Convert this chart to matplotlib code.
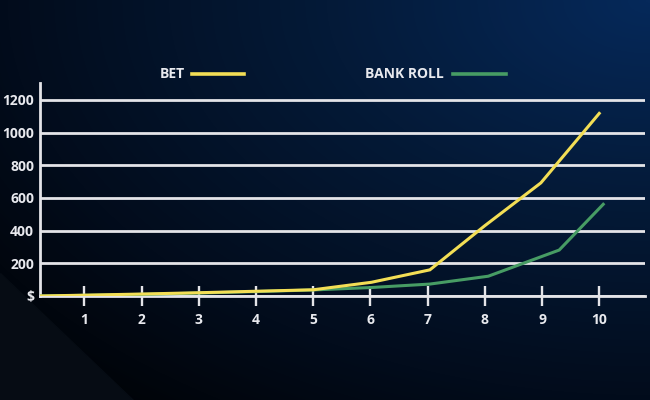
import matplotlib
matplotlib.use("Agg")
import matplotlib.pyplot as plt
from matplotlib.colors import LinearSegmentedColormap
from matplotlib.lines import Line2D
import numpy as np

plt.rcParams['font.family'] = ['Open Sans', 'DejaVu Sans']
plt.rcParams['font.weight'] = 'bold'

# data
bet_x = [0.22, 1, 2, 3, 4, 5, 6.02, 7.04, 8, 8.98, 10.0]
bet_y = [0, 5, 12, 20, 29, 38, 84, 160, 430, 692, 1117]
bank_x = [0.22, 1, 2, 3, 4, 5, 6.02, 7.04, 8.06, 9.3, 10.07]
bank_y = [0, 4, 10, 18, 27, 37, 52, 73, 121, 281, 561]
x_ticks = [1, 2, 3, 4, 5, 6, 7, 8, 9, 10]
y_ticks = [0, 200, 400, 600, 800, 1000, 1200]
y_labels = ['$', '200', '400', '600', '800', '1000', '1200']

text_col = '#e8e9ee'
grid_col = '#e4e4e8'
yellow = '#f3de55'
green = '#479c64'

W, H = 650, 400
fig = plt.figure(figsize=(6.5, 4), dpi=100)

# background gradient, dark navy top right fading to black bottom left
bg = fig.add_axes([0, 0, 1, 1], zorder=-10)
xx, yy = np.meshgrid(np.linspace(0, 1, W), np.linspace(0, 1, H))
d = np.sqrt((1 - xx) ** 2 + yy ** 2) / np.sqrt(2)
cmap = LinearSegmentedColormap.from_list(
    'bg', [(0, '#06295a'), (0.35, '#041a38'), (0.7, '#020c1c'), (1, '#000000')])
bg.imshow(d, cmap=cmap, vmin=0, vmax=1, aspect='auto', extent=[0, W, H, 0])
# faint corner triangle
bg.fill([0, 0, 133], [273, 400, 400], color='#060c14', zorder=2)
bg.set_xlim(0, W)
bg.set_ylim(H, 0)
bg.axis('off')

ax = fig.add_axes([39.7 / W, 104 / H, (645 - 39.7) / W, 213 / H])
ax.patch.set_alpha(0)

ax.plot(bank_x, bank_y, color=green, lw=2.2, zorder=3, solid_joinstyle='miter')
ax.plot(bet_x, bet_y, color=yellow, lw=2.2, zorder=4, solid_joinstyle='miter')

ax.set_xlim(0.22, 10.8)
ax.set_ylim(0, 1303)

for s in ['top', 'right']:
    ax.spines[s].set_visible(False)
ax.spines['left'].set_color(grid_col)
ax.spines['left'].set_linewidth(2)
ax.spines['bottom'].set_color(grid_col)
ax.spines['bottom'].set_linewidth(2)

ax.set_yticks(y_ticks)
ax.set_yticklabels(y_labels)
ax.yaxis.grid(True, color=grid_col, linewidth=2)
ax.set_axisbelow(True)
ax.tick_params(axis='y', length=0, pad=4, labelsize=10, labelcolor=text_col)

ax.set_xticks(x_ticks)
ax.tick_params(axis='x', direction='inout', length=14.4, width=1.7,
               color=grid_col, pad=5, labelsize=10, labelcolor=text_col)

# legend: label first, then a short line sample
legend_items = [('BET', yellow, 160, 192, 244), ('BANK ROLL', green, 365, 453, 506)]
ly = 1 - 74 / H
for name, col, tx, x0, x1 in legend_items:
    fig.text(tx / W, ly, name, color=text_col, fontsize=10, va='center', ha='left')
    fig.add_artist(Line2D([x0 / W, x1 / W], [ly, ly], color=col, lw=2.6,
                          transform=fig.transFigure))

fig.savefig('out.png', dpi=100)
